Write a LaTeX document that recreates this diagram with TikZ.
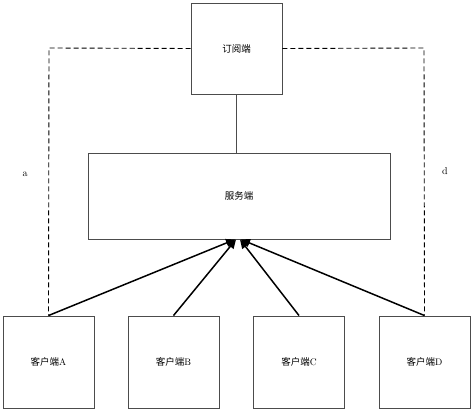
\documentclass[tikz,border=0pt]{standalone}
\usepackage{fontspec}
\newfontfamily\cjk{Noto Sans CJK SC}
\usetikzlibrary{arrows.meta}
\begin{document}
\begin{tikzpicture}[x=1pt,y=-1pt,
  boxst/.style={draw=black!70,line width=0.9pt,fill=white,inner sep=0pt,font=\cjk\fontsize{9.5}{11}\selectfont},
  dashln/.style={draw=black,line width=0.9pt,dash pattern=on 5pt off 3pt},
  arrln/.style={draw=black,line width=1.5pt,-{Triangle[length=9pt,width=8pt]}},
  lbl/.style={font=\fontsize{10}{12}\selectfont}]
\useasboundingbox (0,0) rectangle (474,412);
\node[boxst,minimum width=91pt,minimum height=91pt] (sub) at (236.5,48.5) {订阅端};
\node[boxst,minimum width=302pt,minimum height=86pt] (srv) at (239,196) {服务端};
\node[boxst,minimum width=91pt,minimum height=92pt] (ca) at (48.5,362) {客户端{\rmfamily A}};
\node[boxst,minimum width=91pt,minimum height=92pt] (cb) at (173.5,362) {客户端{\rmfamily B}};
\node[boxst,minimum width=91pt,minimum height=92pt] (cc) at (299,362) {客户端{\rmfamily C}};
\node[boxst,minimum width=91pt,minimum height=92pt] (cd) at (424.5,362) {客户端{\rmfamily D}};
\draw[draw=black!70,line width=0.9pt] (sub.south) -- (sub.south |- srv.north);
\coordinate (tl) at (49,48);
\coordinate (tr) at (424,48);
\draw[dashln] (sub.west) -- (tl) -- (ca.north);
\draw[dashln] (sub.east) -- (tr) -- (cd.north);
\draw[arrln] (ca.north) -- ([xshift=-4pt]srv.south);
\draw[arrln] (cb.north) -- ([xshift=-3pt]srv.south);
\draw[arrln] (cc.north) -- ([xshift=1pt]srv.south);
\draw[arrln] (cd.north) -- ([xshift=2pt]srv.south);
\node[lbl] (la) at (25,174) {a};
\node[lbl] (ld) at (445,171) {d};
\end{tikzpicture}
\end{document}
